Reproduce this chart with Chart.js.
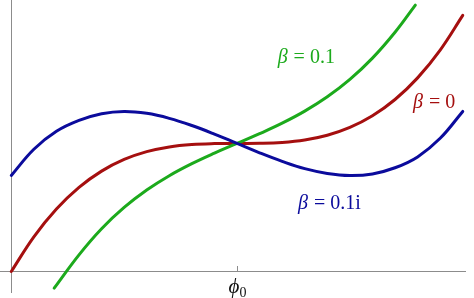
<!DOCTYPE html>
<html>
<head>
<meta charset="utf-8">
<script src="https://cdn.jsdelivr.net/npm/chart.js@4.4.0/dist/chart.umd.min.js"></script>
<style>
  html, body { margin: 0; padding: 0; background: #fff; }
  #wrap { width: 474px; height: 298px; }
</style>
</head>
<body>
<div id="wrap"><canvas id="phase_chart" width="474" height="298"></canvas></div>
<script>
// values (x: phi, phi0 at 1; y: 0 on the axis, 1 at the crossing)
var xValues = [0, 0.1, 0.2, 0.3, 0.4, 0.5, 0.6, 0.7, 0.8, 0.9, 1.0, 1.1, 1.2, 1.3, 1.4, 1.5, 1.6, 1.7, 1.8, 1.9, 2.0];
var redValues = [0, 0.271, 0.488, 0.657, 0.784, 0.875, 0.936, 0.973, 0.992, 0.999, 1.0, 1.001, 1.008, 1.027, 1.064, 1.125, 1.216, 1.343, 1.512, 1.729, 2.0];
var blueValues = [0.75, 0.955, 1.095, 1.18, 1.232, 1.25, 1.235, 1.196, 1.14, 1.073, 1.0, 0.927, 0.86, 0.803, 0.766, 0.75, 0.762, 0.81, 0.895, 1.04, 1.25];
var greenX = [0.19, 0.3, 0.4, 0.5, 0.6, 0.7, 0.8, 0.9, 1.0, 1.1, 1.2, 1.3, 1.4, 1.5, 1.6, 1.7, 1.79];
var greenValues = [-0.13, 0.13, 0.334, 0.5, 0.636, 0.748, 0.842, 0.924, 1.0, 1.076, 1.158, 1.252, 1.364, 1.5, 1.666, 1.868, 2.08];
var tickValues = [1];
var seriesNames = ['0.1', '0', '0.1i'];

var axisColor = '#8c8c8c';
var red = '#a50f0f', green = '#1caa1c', blue = '#0b0b9c';

function toPoints(xs, ys) {
  return xs.map(function(x, i) { return {x: x, y: ys[i]}; });
}

// where the curve names sit (data coords of the left end of the baseline)
var labelSpots = [
  {x: 1.18, y: 1.63, color: green},
  {x: 1.78, y: 1.28, color: red},
  {x: 1.27, y: 0.49, color: blue}
];

var labelPlugin = {
  id: 'curveLabels',
  afterDatasetsDraw: function(chart) {
    var ctx = chart.ctx;
    var sx = chart.scales.x, sy = chart.scales.y;
    ctx.save();
    ctx.textBaseline = 'alphabetic';
    labelSpots.forEach(function(s, i) {
      var px = sx.getPixelForValue(s.x), py = sy.getPixelForValue(s.y);
      ctx.fillStyle = s.color;
      ctx.font = 'italic 20px "Liberation Serif"';
      ctx.fillText('β', px, py);
      var w = ctx.measureText('β').width;
      ctx.font = '20px "Liberation Serif"';
      ctx.fillText(' = ' + seriesNames[i], px + w + 1, py);
    });
    // phi0 under its tick
    var tx = sx.getPixelForValue(tickValues[0]);
    var ty = sy.getPixelForValue(0);
    ctx.fillStyle = '#111';
    ctx.font = 'italic 21px "Liberation Serif"';
    var pw = ctx.measureText('ϕ').width;
    ctx.fillText('ϕ', tx - pw / 2 - 3, ty + 21);
    ctx.font = '14px "Liberation Serif"';
    ctx.fillText('0', tx + pw / 2 - 3, ty + 25);
    ctx.restore();
  }
};

function start() {
  var ctx = document.getElementById('phase_chart').getContext('2d');
  new Chart(ctx, {
    type: 'line',
    data: {
      datasets: [
        {label: 'β = 0.1i', data: toPoints(xValues, blueValues), borderColor: blue, order: 0},
        {label: 'β = 0.1', data: toPoints(greenX, greenValues), borderColor: green, order: 1},
        {label: 'β = 0', data: toPoints(xValues, redValues), borderColor: red, order: 2}
      ]
    },
    options: {
      responsive: false,
      animation: false,
      devicePixelRatio: 1,
      layout: {padding: {left: 0, top: 0, right: 9, bottom: 6}},
      elements: {
        point: {radius: 0},
        line: {borderWidth: 3, tension: 0.4, fill: false, borderCapStyle: 'round'}
      },
      plugins: {legend: {display: false}, tooltip: {enabled: false}},
      scales: {
        x: {
          type: 'linear', min: -0.05, max: 2.01,
          position: {y: 0},
          afterBuildTicks: function(scale) {
            scale.ticks = tickValues.map(function(v) { return {value: v}; });
          },
          ticks: {display: false},
          grid: {drawOnChartArea: false, tickLength: -6, color: axisColor},
          border: {color: axisColor, width: 1}
        },
        y: {
          type: 'linear', min: -0.16, max: 2.12,
          position: {x: 0},
          ticks: {display: false},
          grid: {display: false},
          border: {color: axisColor, width: 1}
        }
      }
    },
    plugins: [labelPlugin]
  });
}

window.onload = start;
</script>
</body>
</html>
